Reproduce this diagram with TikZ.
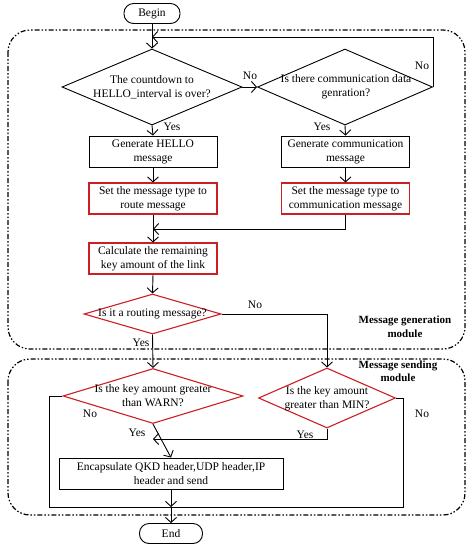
\documentclass[tikz,border=0pt]{standalone}
\usepackage{fontspec}
\setmainfont{Liberation Serif}
\usetikzlibrary{arrows.meta,shapes.geometric}
\definecolor{boxred}{RGB}{205,30,35}
\begin{document}
\begin{tikzpicture}[x=1pt,y=-1pt,
  line width=0.9pt,
  every node/.style={font=\fontsize{11.5}{14}\selectfont},
  arr/.style={-{Straight Barb[length=5pt,width=11pt,line width=0.9pt]}},
  blackbox/.style={draw=black,line width=0.9pt,minimum width=128pt,minimum height=31pt,align=center,inner sep=1pt},
  redbox/.style={blackbox,draw=boxred,line width=1.1pt},
  term/.style={draw,rounded corners=9.5pt,minimum width=56pt,minimum height=20pt,inner sep=1pt},
  dia/.style={draw=black,diamond,inner sep=0pt,line width=0.9pt},
  reddia/.style={dia,draw=boxred,line width=1.1pt},
  dtext/.style={align=center,inner sep=0pt},
  module/.style={line width=1.2pt,dash pattern=on 5pt off 2pt on 1.5pt off 2pt on 1.5pt off 2pt,rounded corners=22pt},
  lbl/.style={inner sep=0pt},
  modlbl/.style={align=center,font=\fontsize{11}{13.5}\selectfont\bfseries,inner sep=0pt}
]
\useasboundingbox (0,0) rectangle (475,550);

% module frames
\draw[module] (8,30) rectangle (465,349);
\draw[module] (8,359) rectangle (465,515);

% terminals
\node[term] (begin) at (152,13.5) {Begin};
\node[term,minimum width=63pt] (end) at (171,533.5) {End};

% diamonds
\node[dia,minimum width=180pt,minimum height=76pt] (d1) at (152,87) {};
\node[dtext] (d1t) at (152,87) {The countdown to\\HELLO\_interval is over?};
\node[dia,minimum width=175pt,minimum height=76pt] (d2) at (345,87) {};
\node[dtext] (d2t) at (346,87) {Is there communication data\\genration?};

% first boxes
\node[blackbox] (g1) at (153,151.5) {Generate HELLO\\message};
\node[blackbox] (g2) at (345.5,151.5) {Generate communication\\message};
\node[redbox] (s1) at (153,198.5) {Set the message type to\\route message};
\node[redbox] (s2) at (345.5,198.5) {Set the message type to\\communication message};
\node[redbox] (calc) at (153,258.5) {Calculate the remaining\\key amount of the link};

\node[reddia,minimum width=137pt,minimum height=40pt] (d3) at (152.5,314) {};
\node[dtext] (d3t) at (152.5,314) {Is it a routing message?};

\node[reddia,minimum width=180pt,minimum height=55pt] (d4) at (153,396) {};
\node[dtext] (d4t) at (153,396) {Is the key amount greater\\than WARN?};
\node[reddia,minimum width=137pt,minimum height=60pt] (d5) at (327,398) {};
\node[dtext] (d5t) at (327,399) {Is the key amount\\greater than MIN?};

\node[blackbox,minimum width=224pt] (enc) at (171,473.5) {Encapsulate QKD header,UDP header,IP\\header and send};

% module labels
\node[modlbl] (mg) at (405,326.5) {Message generation\\module};
\node[modlbl] (ms) at (398,371) {Message sending\\module};

% coordinates
\coordinate (j1) at (152,37);
\coordinate (j2) at (153,229);
\coordinate (j3) at (153,439);
\coordinate (j4) at (171,507);
\coordinate (lc) at (49,396);
\coordinate (rc) at (403,398);

% connectors top
\draw[arr] (begin.south) -- (d1.north);
\draw[arr] (d2.east) -- (d2.east |- j1) -- (j1);
\draw[arr] (d1.east) -- (d2.west);
\draw[arr] (d1.south) -- (g1.north);
\draw[arr] (d2.south) -- (g2.north);
\draw[arr] (g1.south) -- (s1.north);
\draw[arr] (g2.south) -- (s2.north);
\draw[arr] (s2.south) -- (s2.south |- j2) -- (j2);
\draw[arr] (s1.south) -- (calc.north);
\draw[arr] (calc.south) -- (d3.north);
\draw[arr] (d3.south) -- (d4.north);
\draw[arr] (d3.east) -| (d5.north);

% bottom
\draw[arr] (d4.south) -- (enc.north);
\draw[arr] (d5.south) -- (d5.south |- j3) -- (j3);
\draw (d4.west) -- (lc) -- (lc |- j4) -- (rc |- j4) -- (rc) -- (d5.east);
\draw[arr] (enc.south) -- (j4);
\draw[arr] (j4) -- (end.north);

% labels
\node[lbl] (no1) at (250,76) {No};
\node[lbl] (no2) at (422,66) {No};
\node[lbl] (y1) at (172,127) {Yes};
\node[lbl] (y2) at (322,127) {Yes};
\node[lbl] (no3) at (255,305) {No};
\node[lbl] (y3) at (141,343) {Yes};
\node[lbl] (no4) at (90,414) {No};
\node[lbl] (no5) at (422,414) {No};
\node[lbl] (y4) at (137,433) {Yes};
\node[lbl] (y5) at (305,435) {Yes};
\end{tikzpicture}
\end{document}
